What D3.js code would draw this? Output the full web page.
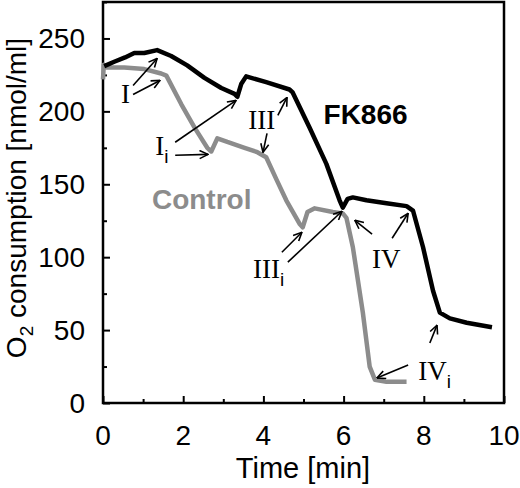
<!DOCTYPE html>
<html>
<head>
<meta charset="utf-8">
<script src="https://cdn.jsdelivr.net/npm/d3@7"></script>
<style>
  body { margin: 0; background: #fff; }
  svg { display: block; }
</style>
</head>
<body>
<div id="chart"></div>
<script>
// FK866 trace (black)
var fkTime = [0.03, 0.28, 0.55, 0.78, 1.03, 1.35, 1.7, 2.1, 2.53, 2.95, 3.28, 3.35, 3.45, 3.57,
    4.07, 4.65, 4.73, 5.15, 5.57, 5.9, 5.98, 6.1, 6.23, 6.57, 7.07, 7.57, 7.73, 7.98, 8.23,
    8.4, 8.65, 9.07, 9.7];
var fkO2 = [231, 234, 237, 240, 240, 242, 238, 231.5, 223, 216, 212, 210, 219, 224,
    220, 215, 213, 189, 164, 139, 134, 140, 141, 139, 137, 135, 132, 107, 77,
    62, 58, 55, 52];

// Control trace (grey)
var ctlTime = [0, 0.02, 0.1, 0.53, 1.03, 1.45, 1.58, 1.95, 2.28, 2.6, 2.7, 2.85, 3.1, 3.53,
    3.85, 4.07, 4.33, 4.57, 4.9, 4.98, 5.1, 5.28, 5.73, 5.98, 6.07, 6.23, 6.48, 6.65,
    6.78, 7.07, 7.57];
var ctlO2 = [222, 232, 230, 230, 229, 226, 224.5, 205, 189, 175, 172.5, 181.5, 179, 175,
    172, 168.5, 153, 139, 123, 120.5, 131, 133.5, 131, 130, 127, 107, 62, 25,
    16, 14.5, 14.5];

var xTicks = [0, 2, 4, 6, 8, 10];
var yTicks = [0, 50, 100, 150, 200, 250];

// roman numeral labels: main text, subscript, x (min), baseline (nmol/ml)
var labelMain = ["I", "I", "III", "III", "IV", "IV"];
var labelSub = ["", "i", "", "i", "", "i"];
var labelX = [0.45, 1.3, 3.62, 3.74, 6.71, 7.86];
var labelY = [206, 170, 188, 85.6, 92.5, 15.8];

// arrows from label to trace: [x1, y1, x2, y2] in data units
var arrows = [
    [0.75, 217.8, 1.35, 236.3],
    [0.75, 211.6, 1.42, 221.2],
    [1.8, 178.8, 3.32, 207.5],
    [1.8, 169.9, 2.62, 170.5],
    [4.36, 197.3, 4.59, 209.6],
    [4.09, 184.9, 3.99, 171.9],
    [4.46, 103.4, 4.96, 117.1],
    [4.61, 96.6, 5.96, 131.5],
    [6.71, 115.8, 6.28, 125.3],
    [7.21, 113, 7.61, 130.1],
    [7.61, 26, 6.83, 17.1],
    [8.15, 41.1, 8.33, 53.4]
];

var width = 520, height = 488;
var margin = {top: 2, right: 16, bottom: 85, left: 103};
var grey = "#8c8c8c";

var svg = d3.select("#chart").append("svg")
    .attr("width", width)
    .attr("height", height);

var x = d3.scaleLinear().domain([0, 10]).range([margin.left, width - margin.right]);
var y = d3.scaleLinear().domain([0, 275]).range([height - margin.bottom, margin.top]);

svg.append("defs").append("marker")
    .attr("id", "head")
    .attr("viewBox", "0 0 10 10")
    .attr("refX", 9.5).attr("refY", 5)
    .attr("markerWidth", 10).attr("markerHeight", 10)
    .attr("markerUnits", "userSpaceOnUse")
    .attr("orient", "auto")
  .append("path")
    .attr("d", "M1,1 L9.5,5 L1,9")
    .attr("fill", "none")
    .attr("stroke", "#000")
    .attr("stroke-width", 1.6);

// frame
svg.append("rect")
    .attr("x", x(0)).attr("y", y(275))
    .attr("width", x(10) - x(0)).attr("height", y(0) - y(275))
    .attr("fill", "none").attr("stroke", "#000").attr("stroke-width", 2.5);

// inward ticks
var xAxis = d3.axisBottom(x).tickValues(d3.range(0, 11, 1)).tickSize(0).tickFormat("");
var gx = svg.append("g").attr("transform", "translate(0," + y(0) + ")").call(xAxis);
gx.select(".domain").remove();
gx.selectAll(".tick line")
    .attr("y2", function(d) { return d % 2 === 0 ? -7 : -4; })
    .attr("stroke", "#000").attr("stroke-width", 2);

var yAxis = d3.axisLeft(y).tickValues(d3.range(0, 276, 25)).tickSize(0).tickFormat("");
var gy = svg.append("g").attr("transform", "translate(" + x(0) + ",0)").call(yAxis);
gy.select(".domain").remove();
gy.selectAll(".tick line")
    .attr("x2", function(d) { return d % 50 === 0 ? 7 : 4; })
    .attr("stroke", "#000").attr("stroke-width", 2);

// tick labels
svg.selectAll(".xlab").data(xTicks).enter().append("text")
    .attr("x", function(d) { return x(d); })
    .attr("y", y(0) + 42)
    .attr("text-anchor", "middle")
    .style("font-family", "'Liberation Sans', Arial, sans-serif")
    .style("font-size", "28px")
    .text(function(d) { return d; });

svg.selectAll(".ylab").data(yTicks).enter().append("text")
    .attr("x", x(0) - 18)
    .attr("y", function(d) { return y(d); })
    .attr("dy", "0.35em")
    .attr("text-anchor", "end")
    .style("font-family", "'Liberation Sans', Arial, sans-serif")
    .style("font-size", "28px")
    .text(function(d) { return d; });

// axis titles
svg.append("text")
    .attr("x", 303).attr("y", 478)
    .attr("text-anchor", "middle")
    .style("font-family", "'Liberation Sans', Arial, sans-serif")
    .style("font-size", "29px")
    .text("Time [min]");

var yt = svg.append("text")
    .attr("transform", "translate(26,198) rotate(-90)")
    .attr("text-anchor", "middle")
    .style("font-family", "'Liberation Sans', Arial, sans-serif")
    .style("font-size", "28px");
yt.append("tspan").text("O");
yt.append("tspan").attr("dy", 7).style("font-size", "19px").text("2");
yt.append("tspan").attr("dy", -7).text(" consumption [nmol/ml]");

// traces
var line = d3.line()
    .x(function(d) { return x(d[0]); })
    .y(function(d) { return y(d[1]); });

svg.append("path")
    .datum(d3.zip(ctlTime, ctlO2))
    .attr("d", line)
    .attr("fill", "none").attr("stroke", grey)
    .attr("stroke-width", 4.5).attr("stroke-linejoin", "round");

svg.append("path")
    .datum(d3.zip(fkTime, fkO2))
    .attr("d", line)
    .attr("fill", "none").attr("stroke", "#000")
    .attr("stroke-width", 4.5).attr("stroke-linejoin", "round");

// series names
svg.append("text")
    .attr("x", x(5.5)).attr("y", y(191))
    .style("font-family", "'Liberation Sans', Arial, sans-serif")
    .style("font-size", "28px").style("font-weight", "bold")
    .text("FK866");

svg.append("text")
    .attr("x", x(1.22)).attr("y", y(133))
    .style("font-family", "'Liberation Sans', Arial, sans-serif")
    .style("font-size", "28px").style("font-weight", "bold")
    .attr("fill", grey)
    .text("Control");

// arrows
svg.selectAll(".arrow").data(arrows).enter().append("line")
    .attr("x1", function(d) { return x(d[0]); })
    .attr("y1", function(d) { return y(d[1]); })
    .attr("x2", function(d) { return x(d[2]); })
    .attr("y2", function(d) { return y(d[3]); })
    .attr("stroke", "#000").attr("stroke-width", 1.6)
    .attr("marker-end", "url(#head)");

// roman numeral labels
var labs = svg.selectAll(".roman").data(d3.range(labelMain.length)).enter().append("text")
    .attr("x", function(i) { return x(labelX[i]); })
    .attr("y", function(i) { return y(labelY[i]); })
    .style("font-family", "'Liberation Serif', 'Times New Roman', serif")
    .style("font-size", "27px");
labs.append("tspan").text(function(i) { return labelMain[i]; });
labs.append("tspan")
    .attr("dy", 8)
    .style("font-family", "'Liberation Sans', Arial, sans-serif")
    .style("font-size", "19px")
    .text(function(i) { return labelSub[i]; });
</script>
</body>
</html>
